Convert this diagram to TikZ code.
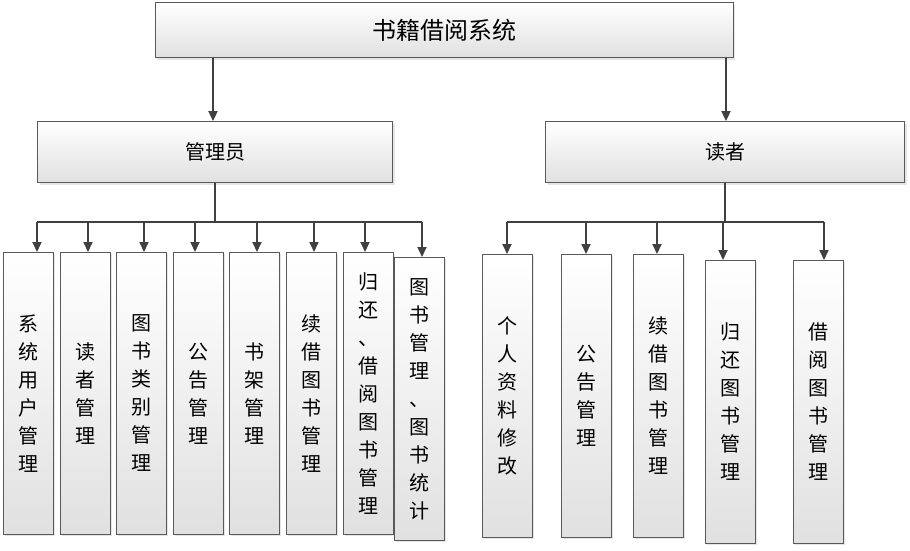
\documentclass[tikz,border=0pt]{standalone}
\usepackage{fontspec}
\setmainfont{Noto Sans CJK SC}
\usetikzlibrary{positioning,shadows,arrows.meta}

\tikzset{
  box/.style={draw=black!65, line width=0.8pt, top color=white, bottom color=black!12,
    drop shadow={shadow xshift=2pt, shadow yshift=-2pt, fill=black!20}},
  vbox/.style={box, minimum width=50pt, align=center, inner sep=0pt,
    font=\fontsize{20}{28}\selectfont},
  link/.style={draw=black!75, line width=1.8pt, -{Triangle[width=9pt,length=10pt]}}
}

\begin{document}
\begin{tikzpicture}[x=1pt,y=-1pt]
    \useasboundingbox (0,0) rectangle (910,550);

    % Top levels
    \node[box, minimum width=578pt, minimum height=55pt, font=\fontsize{24}{28}\selectfont] (sys) at (444,30) {书籍借阅系统};
    \node[box, minimum width=355pt, minimum height=61pt, font=\fontsize{20}{24}\selectfont] (admin) at (215,152) {管理员};
    \node[box, minimum width=359pt, minimum height=61pt, font=\fontsize{20}{24}\selectfont] (reader) at (725,152) {读者};
    \draw[link] (213,0 |- sys.south) -- (213,0 |- admin.north);
    \draw[link] (726,0 |- sys.south) -- (726,0 |- reader.north);

    % Administrator modules
    \foreach \n/\x/\t/\h/\txt in {a1/28/252/282/{系\\统\\用\\户\\管\\理},
        a2/85/252/282/{读\\者\\管\\理},
        a3/141/252/282/{图\\书\\类\\别\\管\\理},
        a4/198/252/282/{公\\告\\管\\理},
        a5/254/252/282/{书\\架\\管\\理},
        a6/311/252/282/{续\\借\\图\\书\\管\\理},
        a7/368/252/282/{归\\还\\、\\借\\阅\\图\\书\\管\\理},
        a8/419/257/283/{图\\书\\管\\理\\、\\图\\书\\统\\计}} {
        \node[vbox, minimum height=\h pt, anchor=north] (\n) at (\x,\t) {\txt};
    }
    \draw[draw=black!75, line width=1.8pt] (admin.south) -- (215,222);
    \draw[draw=black!75, line width=1.8pt] (37,222) -- (422,222);
    \foreach \n/\x in {a1/37, a2/88, a3/144, a4/195, a5/257, a6/314, a7/365, a8/422} {
        \draw[link] (\x,222) -- (\x,222 |- \n.north);
    }

    % Reader modules
    \foreach \n/\x/\t/\txt in {r1/507/254/{个\\人\\资\\料\\修\\改},
        r2/586/254/{公\\告\\管\\理},
        r3/658/254/{续\\借\\图\\书\\管\\理},
        r4/730/260/{归\\还\\图\\书\\管\\理},
        r5/818/260/{借\\阅\\图\\书\\管\\理}} {
        \node[vbox, minimum height=283pt, anchor=north] (\n) at (\x,\t) {\txt};
    }
    \draw[draw=black!75, line width=1.8pt] (reader.south) -- (725,222);
    \draw[draw=black!75, line width=1.8pt] (507,222) -- (824,222);
    \foreach \n/\x in {r1/507, r2/586, r3/657, r4/723, r5/824} {
        \draw[link] (\x,222) -- (\x,222 |- \n.north);
    }
\end{tikzpicture}
\end{document}
